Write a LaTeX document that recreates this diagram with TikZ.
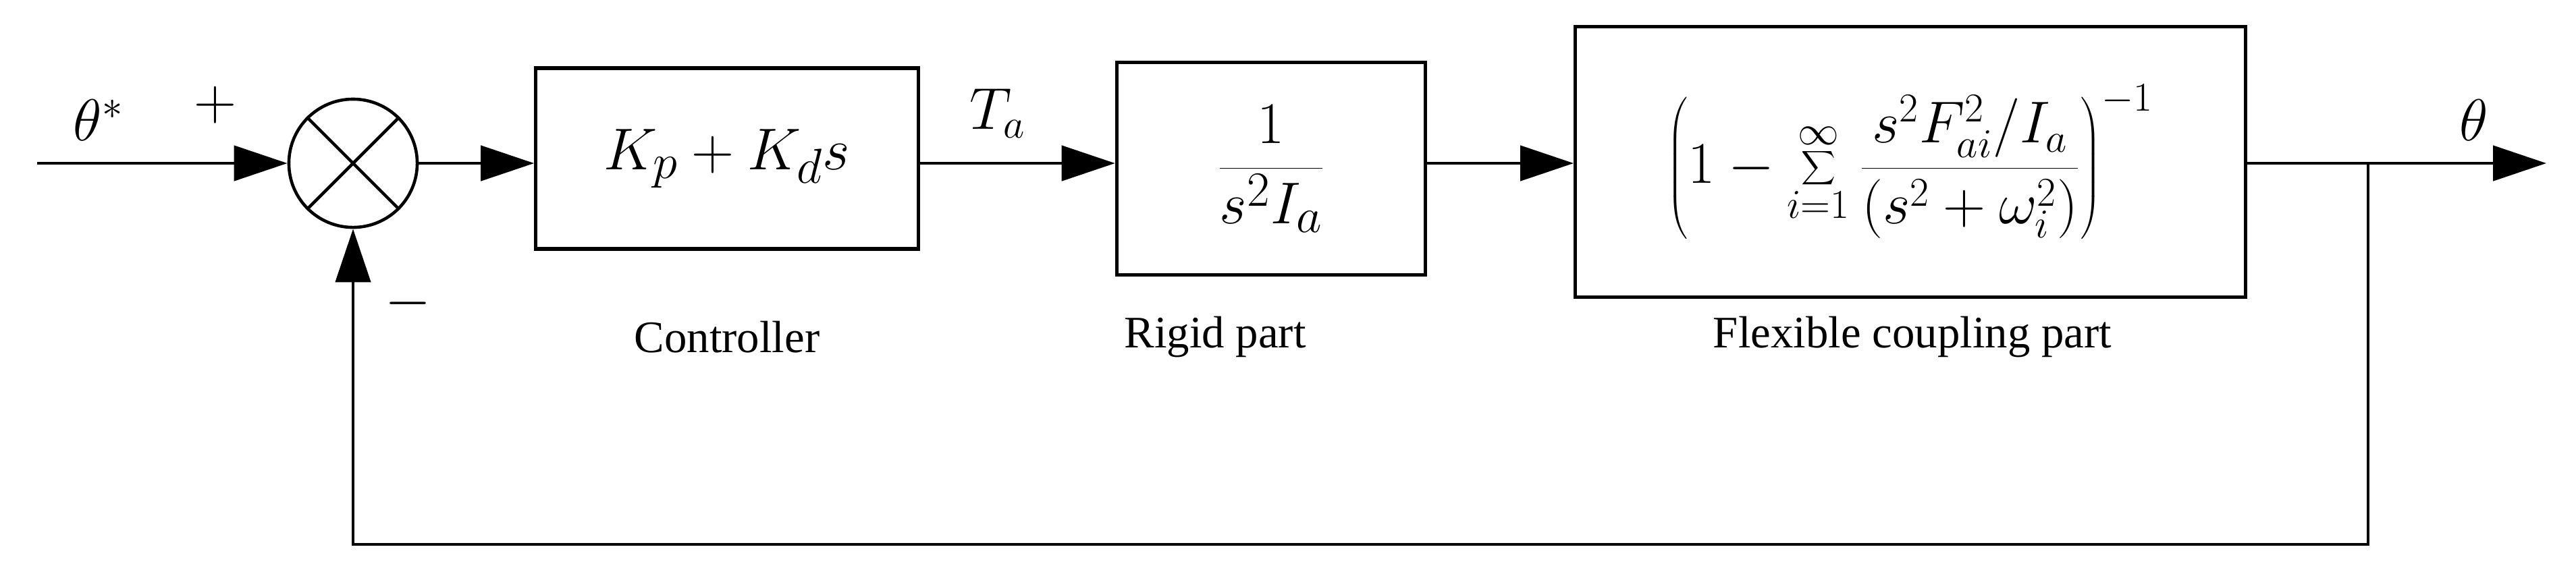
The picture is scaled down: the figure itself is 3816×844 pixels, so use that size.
\documentclass[tikz,border=0pt]{standalone}
\usepackage{fontspec}
\setmainfont{Liberation Serif}
\usetikzlibrary{arrows.meta}
\begin{document}
\begin{tikzpicture}[x=0.01cm,y=-0.01cm,
  line width=1.3pt,
  arr/.style={-{Triangle[length=0.79cm,width=0.52cm]}},
  blk/.style={draw,line width=1.5pt,inner sep=0pt},
  lbl/.style={font=\fontsize{19}{22}\selectfont},
  sym/.style={font=\fontsize{26}{30}\selectfont}]
\useasboundingbox (0,0) rectangle (3816,844);
\node[draw,circle,minimum size=1.9cm,inner sep=0pt] (sum) at (523,242) {};
\draw (sum.north west) -- (sum.south east) (sum.north east) -- (sum.south west);
\node[blk,minimum width=5.66cm,minimum height=2.68cm] (ctrl) at (1077,235)
  {\fontsize{30}{34}\selectfont$K_p+K_d s$};
\node[blk,minimum width=4.57cm,minimum height=3.15cm] (rig) at (1883,250)
  {\fontsize{28}{32}\selectfont$\displaystyle\frac{1}{s^2 I_a}$};
\node[blk,minimum width=9.92cm,minimum height=4.01cm] (flex) at (2830,240)
  {\fontsize{26}{30}\selectfont$\left(1-\displaystyle\sum_{i=1}^{\infty}\frac{s^2F_{ai}^2/I_a}{(s^2+\omega_i^2)}\right)^{-1}$};
\coordinate (in) at (55,242);
\coordinate (out) at (3772,242);
\coordinate (br) at (3508,242);
\coordinate (bl) at (3508,807);
\coordinate (fb) at (523,807);
\draw[arr] (in) -- (sum.west);
\draw[arr] (sum.east) -- (ctrl.west|-sum.east);
\draw[arr] (ctrl.east|-sum.east) -- (rig.west|-sum.east);
\draw[arr] (rig.east|-sum.east) -- (flex.west|-sum.east);
\draw[arr] (flex.east|-sum.east) -- (out);
\draw[arr] (br) -- (bl) -- (fb) -- (sum.south);
\node[sym] (ts) at (146,178) {$\theta^*$};
\node[sym] (pl) at (319,156) {$+$};
\node[sym] (mi) at (605,450) {$-$};
\node[sym] (ta) at (1478,168) {$T_a$};
\node[sym] (th) at (3665,178) {$\theta$};
\node[lbl] (c1) at (1077,500) {Controller};
\node[lbl] (c2) at (1800,500) {Rigid part};
\node[lbl] (c3) at (2833,500) {Flexible coupling part};
\end{tikzpicture}
\end{document}
